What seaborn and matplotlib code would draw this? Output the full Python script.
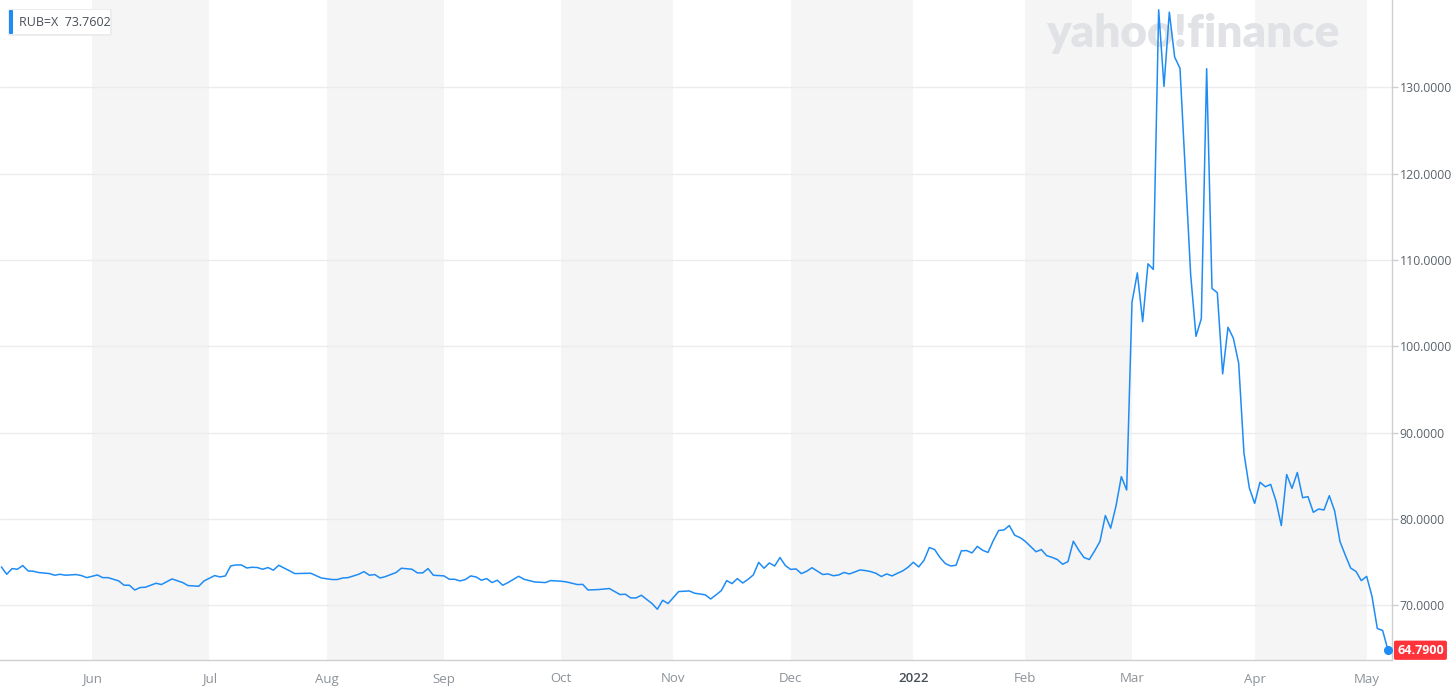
import numpy as np
import pandas as pd
import matplotlib
matplotlib.use("Agg")
import matplotlib.pyplot as plt
import seaborn as sns
from matplotlib.patches import FancyBboxPatch
from matplotlib.transforms import blended_transform_factory

# ---------------- data ----------------
dates = [
    "2021-05-07", "2021-05-10", "2021-05-11", "2021-05-12", "2021-05-13", "2021-05-14",
    "2021-05-17", "2021-05-18", "2021-05-20", "2021-05-21", "2021-05-24", "2021-05-25",
    "2021-05-27", "2021-05-28", "2021-05-31", "2021-06-02", "2021-06-03", "2021-06-04",
    "2021-06-08", "2021-06-09", "2021-06-10", "2021-06-11", "2021-06-14", "2021-06-15",
    "2021-06-17", "2021-06-18", "2021-06-22", "2021-06-24", "2021-06-25", "2021-06-29",
    "2021-06-30", "2021-07-02", "2021-07-05", "2021-07-06", "2021-07-07", "2021-07-08",
    "2021-07-09", "2021-07-12", "2021-07-13", "2021-07-14", "2021-07-15", "2021-07-16",
    "2021-07-19", "2021-07-20", "2021-07-22", "2021-07-23", "2021-07-28", "2021-07-30",
    "2021-08-03", "2021-08-04", "2021-08-05", "2021-08-06", "2021-08-10", "2021-08-11",
    "2021-08-12", "2021-08-13", "2021-08-16", "2021-08-17", "2021-08-19", "2021-08-20",
    "2021-08-24", "2021-08-25", "2021-08-26", "2021-08-27", "2021-08-30", "2021-09-01",
    "2021-09-02", "2021-09-03", "2021-09-06", "2021-09-07", "2021-09-08", "2021-09-09",
    "2021-09-10", "2021-09-13", "2021-09-14", "2021-09-15", "2021-09-16", "2021-09-17",
    "2021-09-21", "2021-09-22", "2021-09-24", "2021-09-28", "2021-09-29", "2021-10-01",
    "2021-10-04", "2021-10-06", "2021-10-07", "2021-10-08", "2021-10-12", "2021-10-14",
    "2021-10-18", "2021-10-19", "2021-10-20", "2021-10-21", "2021-10-22", "2021-10-26",
    "2021-10-27", "2021-10-28", "2021-10-29", "2021-11-02", "2021-11-04", "2021-11-05",
    "2021-11-08", "2021-11-09", "2021-11-10", "2021-11-11", "2021-11-12", "2021-11-15",
    "2021-11-16", "2021-11-17", "2021-11-18", "2021-11-19", "2021-11-22", "2021-11-23",
    "2021-11-24", "2021-11-25", "2021-11-26", "2021-11-29", "2021-11-30", "2021-12-01",
    "2021-12-02", "2021-12-03", "2021-12-06", "2021-12-07", "2021-12-08", "2021-12-09",
    "2021-12-10", "2021-12-13", "2021-12-14", "2021-12-15", "2021-12-16", "2021-12-17",
    "2021-12-20", "2021-12-21", "2021-12-22", "2021-12-23", "2021-12-24", "2021-12-27",
    "2021-12-28", "2021-12-29", "2021-12-30", "2021-12-31", "2022-01-03", "2022-01-04",
    "2022-01-05", "2022-01-06", "2022-01-07", "2022-01-10", "2022-01-11", "2022-01-12",
    "2022-01-13", "2022-01-14", "2022-01-17", "2022-01-18", "2022-01-19", "2022-01-20",
    "2022-01-21", "2022-01-24", "2022-01-25", "2022-01-26", "2022-01-27", "2022-01-28",
    "2022-01-31", "2022-02-01", "2022-02-02", "2022-02-03", "2022-02-04", "2022-02-07",
    "2022-02-08", "2022-02-09", "2022-02-10", "2022-02-11", "2022-02-14", "2022-02-15",
    "2022-02-16", "2022-02-17", "2022-02-18", "2022-02-21", "2022-02-22", "2022-02-23",
    "2022-02-24", "2022-02-25", "2022-02-28", "2022-03-01", "2022-03-02", "2022-03-03",
    "2022-03-04", "2022-03-07", "2022-03-08", "2022-03-09", "2022-03-10", "2022-03-11",
    "2022-03-14", "2022-03-16", "2022-03-17", "2022-03-18", "2022-03-21", "2022-03-22",
    "2022-03-23", "2022-03-24", "2022-03-25", "2022-03-28", "2022-03-29", "2022-03-30",
    "2022-03-31", "2022-04-01", "2022-04-04", "2022-04-05", "2022-04-06", "2022-04-07",
    "2022-04-08", "2022-04-11", "2022-04-12", "2022-04-13", "2022-04-14", "2022-04-15",
    "2022-04-18", "2022-04-19", "2022-04-20", "2022-04-21", "2022-04-22", "2022-04-25",
    "2022-04-26", "2022-04-27", "2022-04-28", "2022-04-29", "2022-05-02", "2022-05-03",
    "2022-05-04", "2022-05-05", "2022-05-06",
]
rates = [
    74.44, 73.59, 74.25, 74.17, 74.60, 73.98,
    73.94, 73.79, 73.67, 73.48, 73.59, 73.48,
    73.56, 73.44, 73.20, 73.51, 73.20, 73.20,
    72.82, 72.32, 72.32, 71.77, 72.05, 72.09,
    72.55, 72.40, 73.05, 72.63, 72.28, 72.20,
    72.82, 73.44, 73.28, 73.40, 74.56, 74.67,
    74.67, 74.32, 74.40, 74.37, 74.17, 74.37,
    74.06, 74.63, 74.00, 73.67, 73.71, 73.16,
    72.98, 72.98, 73.16, 73.20, 73.59, 73.90,
    73.48, 73.56, 73.16, 73.32, 73.79, 74.29,
    74.17, 73.75, 73.75, 74.25, 73.48, 73.40,
    73.01, 73.01, 72.82, 72.98, 73.40, 73.28,
    72.90, 73.09, 72.63, 72.90, 72.32, 72.63,
    73.36, 73.01, 72.70, 72.63, 72.86, 72.78,
    72.70, 72.40, 72.42, 71.77, 71.82, 71.94,
    71.24, 71.28, 70.85, 70.85, 71.16, 70.20,
    69.54, 70.58, 70.20, 71.59, 71.66, 71.39,
    71.31, 71.20, 70.73, 71.20, 71.70, 72.86,
    72.51, 73.09, 72.58, 73.00, 73.52, 74.97,
    74.29, 74.90, 74.55, 75.53, 74.60, 74.15,
    74.21, 73.67, 73.94, 74.35, 73.95, 73.56,
    73.63, 73.42, 73.51, 73.80, 73.63, 73.85,
    74.09, 74.02, 73.90, 73.70, 73.33, 73.63,
    73.40, 73.70, 73.98, 74.40, 74.98, 74.44,
    75.21, 76.69, 76.45, 75.53, 74.83, 74.55,
    74.63, 76.30, 76.34, 76.06, 76.82, 76.37,
    76.12, 77.50, 78.66, 78.73, 79.23, 78.11,
    77.84, 77.40, 76.80, 76.20, 76.45, 75.75,
    75.55, 75.30, 74.75, 75.06, 77.42, 76.40,
    75.53, 75.30, 76.30, 77.40, 80.40, 78.93,
    81.50, 84.90, 83.35, 105.10, 108.50, 102.85,
    109.55, 108.90, 138.97, 130.10, 138.70, 133.50,
    132.20, 108.30, 101.15, 103.20, 132.15, 106.70,
    106.20, 96.80, 102.20, 100.95, 98.05, 87.60,
    83.60, 81.80, 84.25, 83.73, 84.00, 82.08,
    79.23, 85.15, 83.54, 85.38, 82.46, 82.58,
    80.77, 81.15, 81.04, 82.69, 80.92, 77.38,
    75.80, 74.31, 73.92, 72.85, 73.35, 71.04,
    67.31, 67.08, 64.79,
]
month_keys = ["2021-06", "2021-07", "2021-08", "2021-09", "2021-10", "2021-11",
              "2021-12", "2022-01", "2022-02", "2022-03", "2022-04", "2022-05"]
month_labels = ["Jun", "Jul", "Aug", "Sep", "Oct", "Nov",
                "Dec", "2022", "Feb", "Mar", "Apr", "May"]
shaded_months = ["2021-06", "2021-08", "2021-10", "2021-12", "2022-02", "2022-04"]
y_ticks = [70, 80, 90, 100, 110, 120, 130]
symbol = "RUB=X"
prev_close = 73.7602
last_price = 64.79

# ---------------- layout helpers ----------------
W, H = 1454, 689
start = "2021-05-07"


def bidx(d):
    """business-day index (x axis of the chart is trading-day based)"""
    return np.busday_count(start, np.array(d, dtype="datetime64[D]"))


def first_bday(month):
    return np.busday_offset(np.datetime64(month + "-01"), 0, roll="forward")


sns.set_theme(style="white")
plt.rcParams["font.family"] = ["Open Sans", "DejaVu Sans"]

fig = plt.figure(figsize=(W / 100, H / 100), dpi=100)
ax = fig.add_axes([0, 29 / H, 1391.5 / W, 660 / H])

df = pd.DataFrame({"idx": bidx(dates), "rate": rates})

# month shading
for m in shaded_months:
    a = bidx(first_bday(m))
    nxt = (pd.Period(m, "M") + 1).strftime("%Y-%m")
    b = bidx(first_bday(nxt))
    ax.axvspan(a, b, color="#f5f5f5", zorder=0.5, lw=0)

# watermark
ax.text(0.857, 0.949, "yahoo!finance", transform=ax.transAxes, ha="center",
        va="center", fontsize=33, fontweight="heavy", color="#e0e2e6",
        family=["Lato", "Open Sans", "DejaVu Sans"], zorder=1.5)

sns.lineplot(data=df, x="idx", y="rate", ax=ax, color="#1e8cf5", lw=1.1,
             zorder=3)

ax.set_xlim(-0.26, 260.66)
ax.set_ylim(63.66, 140.11)

# grid / ticks
ax.set_yticks(y_ticks)
ax.set_yticklabels([f"{v:.4f}" for v in y_ticks])
ax.yaxis.tick_right()
ax.grid(axis="y", color="#ececec", lw=1, zorder=1)
ax.grid(axis="x", visible=False)

xt = [bidx(first_bday(m)) for m in month_keys]
ax.set_xticks(xt)
ax.set_xticklabels(month_labels)
ax.tick_params(axis="x", direction="out", length=5, width=1, color="#cfcfcf",
               labelsize=9.5, labelcolor="#8c9299", pad=4)
ax.tick_params(axis="y", direction="out", length=4, width=1, color="#cfcfcf",
               labelsize=8.8, labelcolor="#5b636a", pad=2, right=True, left=False)
for lab in ax.get_xticklabels():
    if lab.get_text() == "2022":
        lab.set_color("#464e56")
        lab.set_fontweight("semibold")

for s in ["left", "top"]:
    ax.spines[s].set_visible(False)
for s in ["right", "bottom"]:
    ax.spines[s].set_visible(True)
    ax.spines[s].set_color("#cfcfcf")
    ax.spines[s].set_linewidth(1)
ax.set_xlabel("")
ax.set_ylabel("")

# last point marker and price label
ax.plot(df["idx"].iloc[-1], df["rate"].iloc[-1], "o", color="#1e8cf5", ms=5.5,
        clip_on=False, zorder=5)
tr = blended_transform_factory(ax.transAxes, ax.transData)
ax.text(1.004, last_price, f"{last_price:.4f}", transform=tr, ha="left",
        va="center", fontsize=9, fontweight="bold", color="white",
        bbox=dict(boxstyle="round,pad=0.25,rounding_size=0.15", fc="#ff333a",
                  ec="none"), zorder=6, clip_on=False)

# top-left quote box
def fx(x):
    return x / W


def fy(y):
    return 1 - y / H


shadow = FancyBboxPatch((fx(8), fy(36)), fx(104), 27 / H,
                        boxstyle="round,pad=0,rounding_size=0.002",
                        transform=fig.transFigure, fc="#ececec", ec="none",
                        zorder=10)
box = FancyBboxPatch((fx(9), fy(34)), fx(101), 24 / H,
                     boxstyle="round,pad=0,rounding_size=0.001",
                     transform=fig.transFigure, fc="white", ec="none",
                     zorder=11)
bar = FancyBboxPatch((fx(9), fy(34)), fx(4), 24 / H,
                     boxstyle="round,pad=0,rounding_size=0.001",
                     transform=fig.transFigure, fc="#1e8cf5", ec="none",
                     zorder=12)
fig.patches.extend([shadow, box, bar])
fig.text(fx(19), fy(22.5), f"{symbol}  {prev_close:.4f}", ha="left",
         va="center", fontsize=9, color="#464e56", zorder=13)

fig.savefig("out.png", dpi=100)
